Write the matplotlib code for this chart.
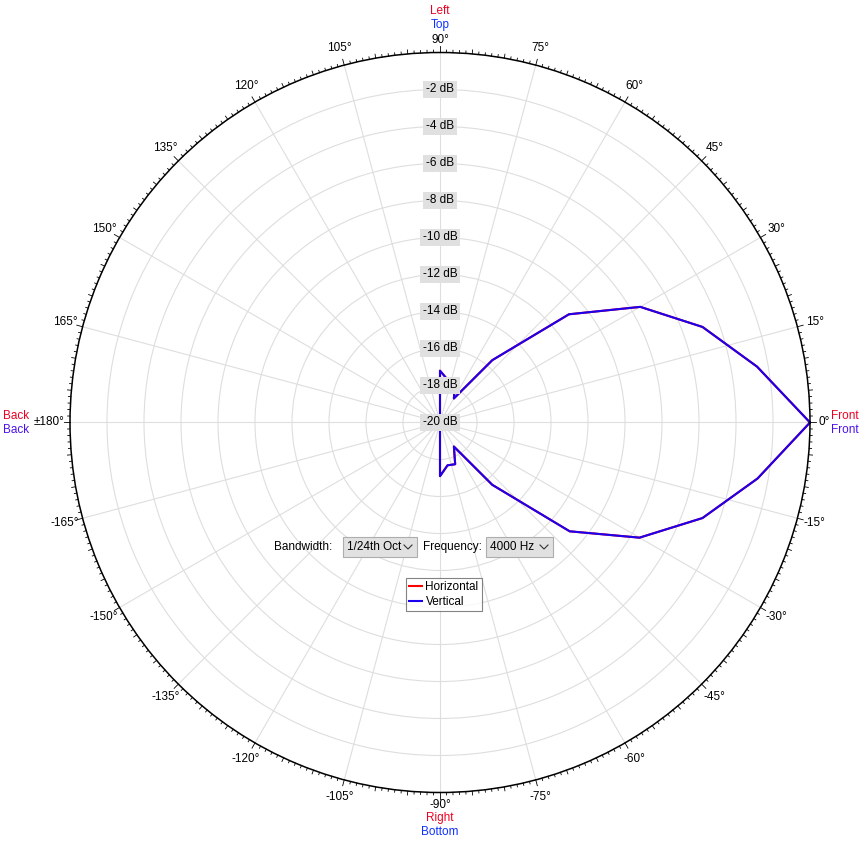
import matplotlib.pyplot as plt
import matplotlib.transforms as mtransforms
from matplotlib.patches import Rectangle
from matplotlib.lines import Line2D
import numpy as np

plt.rcParams['font.family'] = ['Liberation Sans', 'DejaVu Sans']

# Datos (dB por ángulo)
angles = [0, 10, 20, 30, 40, 50, 60, 70, 80, 90,
          100, 110, 120, 130, 140, 150, 160, 170, 180,
          190, 200, 210, 220, 230, 240, 250, 260,
          270, 280, 290, 300, 310, 320, 330, 340, 350, 360]
horizontal = [0.0, -2.6, -4.9, -7.5, -10.9, -15.6, -18.5, -17.6, -17.65, -17.2,
              -20, -20, -20, -20, -20, -20, -20, -20, -20,
              -20, -20, -20, -20, -20, -20, -20, -20,
              -17.1, -17.65, -17.6, -18.5, -15.6, -10.85, -7.55, -4.9, -2.57, 0.0]
vertical = [0.0, -2.6, -4.9, -7.5, -10.9, -15.6, -18.5, -17.6, -17.65, -17.2,
            -20, -20, -20, -20, -20, -20, -20, -20, -20,
            -20, -20, -20, -20, -20, -20, -20, -20,
            -17.1, -17.65, -17.6, -18.5, -15.6, -10.85, -7.55, -4.9, -2.57, 0.0]

ring_db = [-2, -4, -6, -8, -10, -12, -14, -16, -18, -20]
spoke_deg = list(range(0, 360, 15))
spoke_labels = ['0°', '15°', '30°', '45°', '60°', '75°', '90°', '105°', '120°', '135°',
                '150°', '165°', '±180°', '-165°', '-150°', '-135°', '-120°', '-105°',
                '-90°', '-75°', '-60°', '-45°', '-30°', '-15°']

FS = 8.5
W, H = 867, 842
fig = plt.figure(figsize=(W / 100, H / 100), dpi=100)
cx, cy, R = 440, 422.5, 370
ax = fig.add_axes([(cx - R) / W, (H - cy - R) / H, 2 * R / W, 2 * R / H], projection='polar')
px_per_db = R / 20.0

ax.set_theta_zero_location('E')
ax.set_ylim(-20, 0)
ax.set_xticks(np.deg2rad(spoke_deg))
ax.set_xticklabels([])
ax.set_yticks(ring_db[:-1])
ax.set_yticklabels([])
ax.tick_params(axis='x', length=0)
ax.grid(True, color='#dedede', linewidth=0.8)
ax.spines['polar'].set_color('black')
ax.spines['polar'].set_linewidth(1.1)

# Curvas
th = np.deg2rad(angles)
ax.plot(th, horizontal, color='red', linewidth=1.5, label='Horizontal')
ax.plot(th, vertical, color='#1a00ee', linewidth=1.5, label='Vertical')

# Marcas de grado alrededor del círculo
for d in range(360):
    L = 6 if d % 15 == 0 else (4 if d % 5 == 0 else 2.5)
    t = np.deg2rad(d)
    ax.plot([t, t], [0, L / px_per_db], color='black', linewidth=0.6, clip_on=False)

# Etiquetas de anillos
for db in ring_db:
    ax.text(np.pi / 2, db, f'{db} dB', ha='center', va='center', fontsize=FS,
            bbox=dict(boxstyle='square,pad=0.25', facecolor='#e0e0e0', edgecolor='none'))

# Etiquetas de ángulo
special = {0: 14, 90: 12, 180: 21, 270: 12}
for d, lab in zip(spoke_deg, spoke_labels):
    dist = special.get(d, 18)
    t = np.deg2rad(d)
    tr = mtransforms.offset_copy(ax.transData, fig=fig, x=dist * np.cos(t), y=dist * np.sin(t), units='dots')
    ax.text(t, 0, lab, transform=tr, ha='center', va='center', fontsize=FS, clip_on=False)


def fx(x, y):
    return (x / W, 1 - y / H)


def ftext(x, y, s, color='black', ha='left'):
    fig.text(*fx(x, y), s, color=color, ha=ha, va='center', fontsize=FS)


ftext(440, 11, 'Left', '#ee0022', 'center')
ftext(440, 25, 'Top', '#1030ff', 'center')
ftext(440, 818, 'Right', '#ee0022', 'center')
ftext(440, 832, 'Bottom', '#1030ff', 'center')
ftext(3, 416, 'Back', '#ee0022')
ftext(3, 430, 'Back', '#4a10ee')
ftext(859, 416, 'Front', '#ee0022', 'right')
ftext(859, 430, 'Front', '#4a10ee', 'right')

# Controles
ftext(274, 547, 'Bandwidth:')
ftext(423, 547, 'Frequency:')
for x0, x1, s in [(343, 417, '1/24th Oct'), (486, 553, '4000 Hz')]:
    fig.add_artist(Rectangle(fx(x0, 557), (x1 - x0) / W, 20 / H, transform=fig.transFigure,
                             facecolor='#e1e1e1', edgecolor='#adadad', linewidth=0.8))
    ftext(x0 + 4, 547, s)
    a, b = x1 - 13, x1 - 5
    fig.add_artist(Line2D([a / W, (a + b) / 2 / W, b / W],
                          [1 - 545 / H, 1 - 549 / H, 1 - 545 / H],
                          transform=fig.transFigure, color='#333333', linewidth=0.8))

leg = ax.legend(loc='upper left', bbox_to_anchor=fx(406, 578), bbox_transform=fig.transFigure,
                frameon=True, fancybox=False, edgecolor='#646464', fontsize=FS,
                handlelength=1.1, handletextpad=0.3, borderpad=0.25, labelspacing=0.25,
                borderaxespad=0)
leg.get_frame().set_linewidth(0.8)

plt.savefig('out.png', dpi=100)
